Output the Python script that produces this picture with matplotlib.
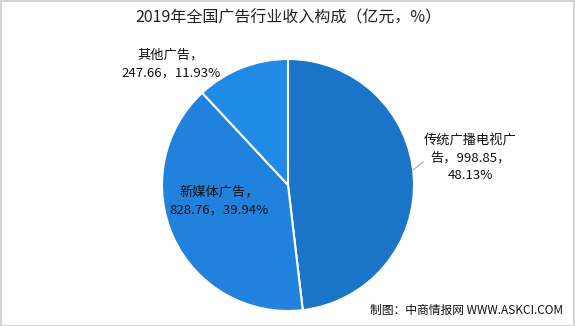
import matplotlib
matplotlib.use("Agg")
import matplotlib.pyplot as plt
from matplotlib.patches import Rectangle

plt.rcParams['font.family'] = ['Noto Sans CJK SC', 'DejaVu Sans']

title = "2019年全国广告行业收入构成（亿元，%）"
categories = ["传统广播电视广告", "新媒体广告", "其他广告"]
values = [998.85, 828.76, 247.66]
percents = [48.13, 39.94, 11.93]
colors = ["#1a74c8", "#2082dd", "#1f8be6"]
label_texts = ["传统广播电视广\n告，998.85，\n48.13%",
               "新媒体广告，\n828.76，39.94%",
               "其他广告，\n247.66，11.93%"]
source = "制图：中商情报网 WWW.ASKCI.COM"

W, H = 575, 326
fig = plt.figure(figsize=(W / 100, H / 100), dpi=100)

cx, cy, r = 288, 185, 126
ax = fig.add_axes([(cx - r) / W, (H - cy - r) / H, 2 * r / W, 2 * r / H])
ax.pie(values, colors=colors, startangle=90, counterclock=False,
       wedgeprops=dict(edgecolor="white", linewidth=1.5), radius=1)
ax.set_xlim(-1, 1)
ax.set_ylim(-1, 1)
ax.set_aspect('equal')
ax.axis('off')

def d(px, py):
    return ((px - cx) / r, (cy - py) / r)

label_pos = [(470, 158), (219, 201), (171, 64)]
for txt, (px, py) in zip(label_texts, label_pos):
    x, y = d(px, py)
    ax.text(x, y, txt, ha='center', va='center', fontsize=9.5,
            color='#111111', linespacing=1.45, clip_on=False)

x0, y0 = d(413, 170)
x1, y1 = d(423, 162)
ax.plot([x0, x1], [y0, y1], color='#aaaaaa', lw=0.8, clip_on=False)

fig.text(cx / W, 1 - 18 / H, title, ha='center', va='center',
         fontsize=11.5, color='#222222')
fig.text(563 / W, 1 - 310 / H, source, ha='right', va='center',
         fontsize=8.5, color='#111111')

fig.patches.append(Rectangle((0.5 / W, 0.5 / H), 1 - 1.5 / W, 1 - 1.5 / H,
                             transform=fig.transFigure, fill=False,
                             edgecolor='#d4d4d4', linewidth=1.5))

fig.savefig("out.png", dpi=100)
